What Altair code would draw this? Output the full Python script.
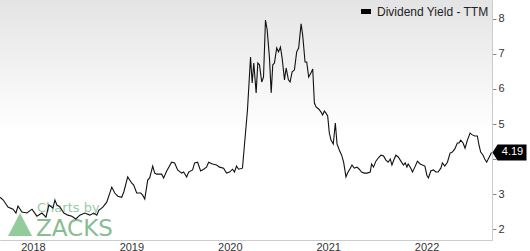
import altair as alt
import pandas as pd

# Dividend Yield - TTM (decimal year, value)
years = [
    2017.665, 2017.698, 2017.746, 2017.797, 2017.827, 2017.848, 2017.888, 2017.939, 2017.990, 2018.040,
    2018.091, 2018.132, 2018.162, 2018.203, 2018.223, 2018.243, 2018.274, 2018.314, 2018.355, 2018.395,
    2018.436, 2018.476, 2018.527, 2018.578, 2018.618, 2018.649, 2018.669, 2018.710, 2018.750, 2018.801,
    2018.831, 2018.862, 2018.902, 2018.923, 2018.963, 2019.004, 2019.024, 2019.054, 2019.095, 2019.115,
    2019.136, 2019.166, 2019.186, 2019.217, 2019.237, 2019.257, 2019.308, 2019.328, 2019.359, 2019.409,
    2019.440, 2019.470, 2019.511, 2019.531, 2019.562, 2019.582, 2019.622, 2019.643, 2019.673, 2019.704,
    2019.734, 2019.764, 2019.785, 2019.825, 2019.866, 2019.896, 2019.937, 2019.967, 2019.998, 2020.028,
    2020.048, 2020.069, 2020.089, 2020.129, 2020.180, 2020.211, 2020.228, 2020.244, 2020.268, 2020.285,
    2020.302, 2020.325, 2020.343, 2020.363, 2020.380, 2020.403, 2020.421, 2020.437, 2020.454, 2020.477,
    2020.495, 2020.515, 2020.532, 2020.556, 2020.573, 2020.596, 2020.613, 2020.634, 2020.657, 2020.680,
    2020.700, 2020.725, 2020.741, 2020.765, 2020.782, 2020.802, 2020.826, 2020.843, 2020.860, 2020.877,
    2020.903, 2020.928, 2020.944, 2020.961, 2020.978, 2020.995, 2021.012, 2021.029, 2021.052, 2021.073,
    2021.090, 2021.113, 2021.137, 2021.157, 2021.181, 2021.197, 2021.225, 2021.242, 2021.265, 2021.293,
    2021.316, 2021.339, 2021.367, 2021.394, 2021.428, 2021.441, 2021.461, 2021.485, 2021.509, 2021.536,
    2021.563, 2021.587, 2021.610, 2021.631, 2021.648, 2021.671, 2021.688, 2021.712, 2021.739, 2021.765,
    2021.783, 2021.800, 2021.813, 2021.840, 2021.857, 2021.881, 2021.907, 2021.935, 2021.958, 2021.983,
    2022.003, 2022.019, 2022.043, 2022.070, 2022.094, 2022.117, 2022.145, 2022.161, 2022.185, 2022.212,
    2022.239, 2022.262, 2022.287, 2022.313, 2022.330, 2022.347, 2022.371, 2022.391, 2022.415, 2022.442,
    2022.465, 2022.490, 2022.516, 2022.533, 2022.550, 2022.574, 2022.591, 2022.611, 2022.627, 2022.660,
]
yields = [
    2.91, 2.83, 2.63, 2.57, 2.46, 2.66, 2.49, 2.46, 2.57, 2.37,
    2.46, 2.34, 2.69, 2.60, 2.83, 2.69, 2.63, 2.46, 2.40, 2.37,
    2.29, 2.40, 2.46, 2.40, 2.46, 2.40, 2.54, 2.63, 2.77, 3.20,
    3.03, 2.94, 2.91, 3.06, 3.49, 3.31, 3.26, 3.03, 3.03, 2.97,
    2.86, 3.40, 3.46, 3.80, 3.60, 3.57, 3.57, 3.46, 3.66, 3.91,
    3.89, 3.69, 3.60, 3.63, 3.49, 3.63, 3.69, 3.89, 3.91, 3.66,
    3.71, 3.77, 3.91, 3.86, 3.83, 3.77, 3.74, 3.60, 3.63, 3.71,
    3.63, 3.80, 3.71, 3.74, 5.40, 6.91, 6.17, 6.74, 5.89, 6.74,
    6.69, 6.20, 6.34, 7.97, 7.69, 6.91, 5.89, 6.69, 6.74, 7.17,
    7.06, 7.20, 6.89, 6.26, 6.60, 6.26, 6.20, 6.49, 6.54, 7.06,
    7.17, 7.86, 7.54, 6.77, 6.77, 6.34, 6.46, 6.57, 5.60, 5.49,
    5.43, 5.34, 5.26, 5.37, 5.31, 5.23, 4.74, 4.54, 4.43, 5.03,
    4.43, 4.26, 4.11, 3.91, 3.49, 3.60, 3.74, 3.83, 3.74, 3.77,
    3.71, 3.63, 3.60, 3.60, 3.63, 3.86, 3.77, 3.94, 4.03, 4.11,
    4.09, 3.97, 3.91, 4.00, 3.83, 4.00, 4.11, 4.06, 3.94, 3.83,
    3.89, 3.77, 3.86, 3.74, 3.63, 3.77, 3.94, 3.86, 3.83, 3.80,
    3.54, 3.46, 3.66, 3.69, 3.63, 3.63, 3.74, 3.89, 3.80, 3.91,
    4.17, 4.20, 4.29, 4.46, 4.46, 4.54, 4.46, 4.31, 4.54, 4.74,
    4.69, 4.66, 4.66, 4.40, 4.20, 4.11, 4.00, 3.91, 4.00, 4.19,
]
x_ticks = [2018, 2019, 2020, 2021, 2022]
y_ticks = [2, 3, 4, 5, 6, 7, 8]
series_name = "Dividend Yield - TTM"
last_label = "4.19"

FONT = "Liberation Sans"
W, H = 492, 240
x_domain = [2017.665, 2022.665]
y_domain = [1.69, 8.54]

df = pd.DataFrame({"year": years, "value": yields})
last = pd.DataFrame({"year": [years[-1]], "value": [yields[-1]], "label": [last_label]})
one = pd.DataFrame({"a": [0]})

xs = alt.Scale(domain=x_domain, nice=False, zero=False)
ys = alt.Scale(domain=y_domain, nice=False, zero=False)

x_axis = alt.Axis(
    values=x_ticks, format="d", title=None, orient="bottom",
    grid=True, gridColor="#cccccc", tickSize=0,
    labelBaseline="alphabetic", labelPadding=10, labelOverlap=False,
    labelFont=FONT, labelFontSize=11, labelColor="#333333",
    domainColor="#cccccc")
y_axis = alt.Axis(
    values=y_ticks, title=None, orient="right",
    grid=True, gridColor="#cccccc", tickSize=4, tickColor="#888888",
    labelPadding=2, labelOverlap=False, labelFont=FONT, labelFontSize=11,
    labelColor="#333333", labelExpr="datum.value == 4 ? '' : datum.label",
    domainColor="#cccccc")

bg = alt.Chart(one).mark_rect(
    color=alt.LinearGradient(
        gradient="linear",
        stops=[alt.GradientStop(color="#e4e4e4", offset=0),
               alt.GradientStop(color="#ffffff", offset=0.55),
               alt.GradientStop(color="#ffffff", offset=1)],
        x1=0, x2=0, y1=0, y2=1,
    )
).encode(x=alt.value(0), x2=alt.value(W), y=alt.value(0), y2=alt.value(H))

line = alt.Chart(df).mark_line(color="#111111", strokeWidth=1.1).encode(
    x=alt.X("year:Q", scale=xs, axis=x_axis),
    y=alt.Y("value:Q", scale=ys, axis=y_axis),
)

marker = alt.Chart(last).mark_point(
    shape="M1,0L6,-8L35,-8L35,8L6,8Z", size=4, filled=True,
    color="#000000", opacity=1, strokeWidth=0,
).encode(x=alt.X("year:Q", scale=xs, axis=x_axis), y=alt.Y("value:Q", scale=ys, axis=y_axis))

marker_text = alt.Chart(last).mark_text(
    color="#ffffff", font=FONT, fontSize=11, align="center", baseline="middle", dx=21,
).encode(x=alt.X("year:Q", scale=xs, axis=x_axis), y=alt.Y("value:Q", scale=ys, axis=y_axis),
         text="label:N")

leg_sym = alt.Chart(one).mark_rect(color="#000000").encode(
    x=alt.value(361), x2=alt.value(371), y=alt.value(9), y2=alt.value(14))
leg_txt = alt.Chart(one).mark_text(
    text=series_name, font=FONT, fontSize=12, color="#222222",
    align="left", baseline="middle").encode(x=alt.value(377), y=alt.value(11.5))

logo_tri = alt.Chart(one).mark_point(
    shape="M12,0L24,23L0,23Z", size=4, filled=True, color="#6dbb7c",
    opacity=0.75, strokeWidth=0).encode(x=alt.value(8), y=alt.value(213))
logo_charts = alt.Chart(one).mark_text(
    text="Charts by", font="DejaVu Sans", fontSize=13, color="#7cc08a",
    opacity=0.8, align="left", baseline="alphabetic").encode(
    x=alt.value(37), y=alt.value(212))
logo_zacks = alt.Chart(one).mark_text(
    text="ZACKS", font="DejaVu Sans", fontSize=23, color="#5fa86e",
    opacity=0.75, align="left", baseline="alphabetic").encode(
    x=alt.value(36), y=alt.value(236))

chart = alt.layer(
    bg, logo_tri, logo_charts, logo_zacks, line, marker, marker_text, leg_sym, leg_txt
).properties(
    width=W, height=H,
    autosize=alt.AutoSizeParams(type="none"),
    padding={"left": 0, "top": 0, "right": 38, "bottom": 11},
).configure_view(stroke="#cccccc", clip=False).configure(background="#ffffff")

chart.save("out.html", embed_options={"renderer": "svg", "actions": False})
